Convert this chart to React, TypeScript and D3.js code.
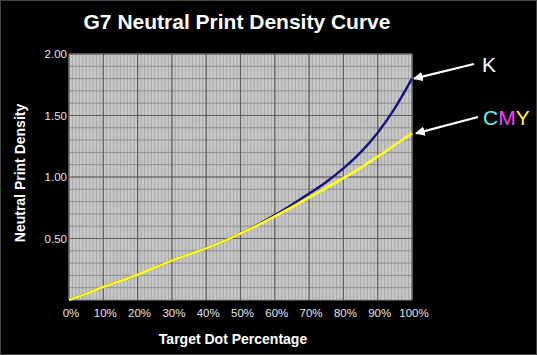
import React from 'react';
import * as d3 from 'd3';

const dotPct = [0, 5, 10, 15, 20, 25, 30, 35, 40, 45, 50, 55, 60, 65, 70, 75, 80, 85, 90, 95, 100];
const cmyDensity = [0, 0.05, 0.105, 0.155, 0.205, 0.262, 0.32, 0.37, 0.42, 0.477, 0.54, 0.607, 0.68, 0.755, 0.833, 0.91, 0.99, 1.075, 1.165, 1.26, 1.355];
const kDensity = [0, 0.05, 0.105, 0.155, 0.205, 0.262, 0.32, 0.37, 0.42, 0.477, 0.54, 0.612, 0.69, 0.775, 0.865, 0.96, 1.07, 1.2, 1.36, 1.56, 1.8];
const xTicks = [0, 10, 20, 30, 40, 50, 60, 70, 80, 90, 100];
const yTicks = [0.5, 1.0, 1.5, 2.0];

const W = 537;
const H = 355;
const margin = { top: 54, right: 125, bottom: 55, left: 69 };
const font = 'Arial, "Liberation Sans", sans-serif';

export default function App() {
  const x = d3.scaleLinear().domain([0, 100]).range([margin.left, W - margin.right]);
  const y = d3.scaleLinear().domain([0, 2]).range([H - margin.bottom, margin.top]);

  const line = d3.line<number>()
    .x((_, i) => x(dotPct[i]))
    .y(d => y(d))
    .curve(d3.curveMonotoneX);

  const minorX = d3.range(0, 101, 1);
  const minorY = d3.range(0, 21, 1).map(v => v / 10);

  // arrow end points sit right on the last value of each curve
  const kEnd = [x(100) + 2, y(kDensity[kDensity.length - 1])];
  const cmyEnd = [x(100) + 4, y(cmyDensity[cmyDensity.length - 1])];

  return (
    <svg width={W} height={H} style={{ position: 'absolute', left: 0, top: 0, display: 'block' }}>
      <defs>
        <marker id="head" viewBox="0 0 10 10" refX="9" refY="5" markerWidth="4.4" markerHeight="4.4" orient="auto-start-reverse">
          <path d="M0,0 L10,5 L0,10 z" fill="#fff" />
        </marker>
      </defs>
      <rect width={W} height={H} fill="#000" />
      <rect x={0.5} y={0.5} width={W - 1} height={H - 1} fill="none" stroke="#444" />

      <text x={237} y={29} textAnchor="middle" fill="#fff" fontFamily={font} fontWeight="bold" fontSize={21}>
        G7 Neutral Print Density Curve
      </text>

      {/* plot background and grid */}
      <rect x={x(0)} y={y(2)} width={x(100) - x(0)} height={y(0) - y(2)} fill="#c8c8c8" />
      {minorX.map(v => (
        <line key={'mx' + v} x1={x(v)} x2={x(v)} y1={y(0)} y2={y(2)} stroke="#a8a8a8" strokeWidth={1} />
      ))}
      {minorY.map(v => (
        <line key={'my' + v} x1={x(0)} x2={x(100)} y1={y(v)} y2={y(v)} stroke="#8e8e8e" strokeWidth={1} />
      ))}
      {xTicks.map(v => (
        <line key={'Mx' + v} x1={x(v)} x2={x(v)} y1={y(0)} y2={y(2)} stroke="#5e5e5e" strokeWidth={1.2} />
      ))}
      {yTicks.map(v => (
        <line key={'My' + v} x1={x(0)} x2={x(100)} y1={y(v)} y2={y(v)} stroke="#5e5e5e" strokeWidth={1.2} />
      ))}

      {/* curves */}
      <path d={line(kDensity) || ''} fill="none" stroke="#14147a" strokeWidth={2.4} />
      <path d={line(cmyDensity) || ''} fill="none" stroke="#ffff1a" strokeWidth={2.6} />

      {/* tick labels */}
      {yTicks.map(v => (
        <text key={'yl' + v} x={x(0) - 2} y={y(v)} dy="0.35em" textAnchor="end" fill="#e6e6e6" fontFamily={font} fontSize={11.5}>
          {v.toFixed(2)}
        </text>
      ))}
      {xTicks.map(v => (
        <text key={'xl' + v} x={x(v) + 2} y={y(0) + 17} textAnchor="middle" fill="#e6e6e6" fontFamily={font} fontSize={11.5}>
          {v + '%'}
        </text>
      ))}

      {/* axis titles */}
      <text x={233} y={344} textAnchor="middle" fill="#fff" fontFamily={font} fontWeight="bold" fontSize={14}>
        Target Dot Percentage
      </text>
      <text transform={`translate(25,${173}) rotate(-90)`} textAnchor="middle" fill="#fff" fontFamily={font} fontWeight="bold" fontSize={14}>
        Neutral Print Density
      </text>

      {/* call-out arrows */}
      <line x1={474} y1={64} x2={kEnd[0]} y2={kEnd[1]} stroke="#fff" strokeWidth={2.2} markerEnd="url(#head)" />
      <line x1={478} y1={117} x2={cmyEnd[0]} y2={cmyEnd[1]} stroke="#fff" strokeWidth={2.2} markerEnd="url(#head)" />
      <text x={482} y={64} dy="0.36em" fill="#fff" fontFamily={font} fontSize={21}>K</text>
      <text x={483} y={117} dy="0.36em" fontFamily={font} fontSize={21}>
        <tspan fill="#5ff0f0">C</tspan>
        <tspan fill="#ff3cff">M</tspan>
        <tspan fill="#ffff33">Y</tspan>
      </text>
    </svg>
  );
}
